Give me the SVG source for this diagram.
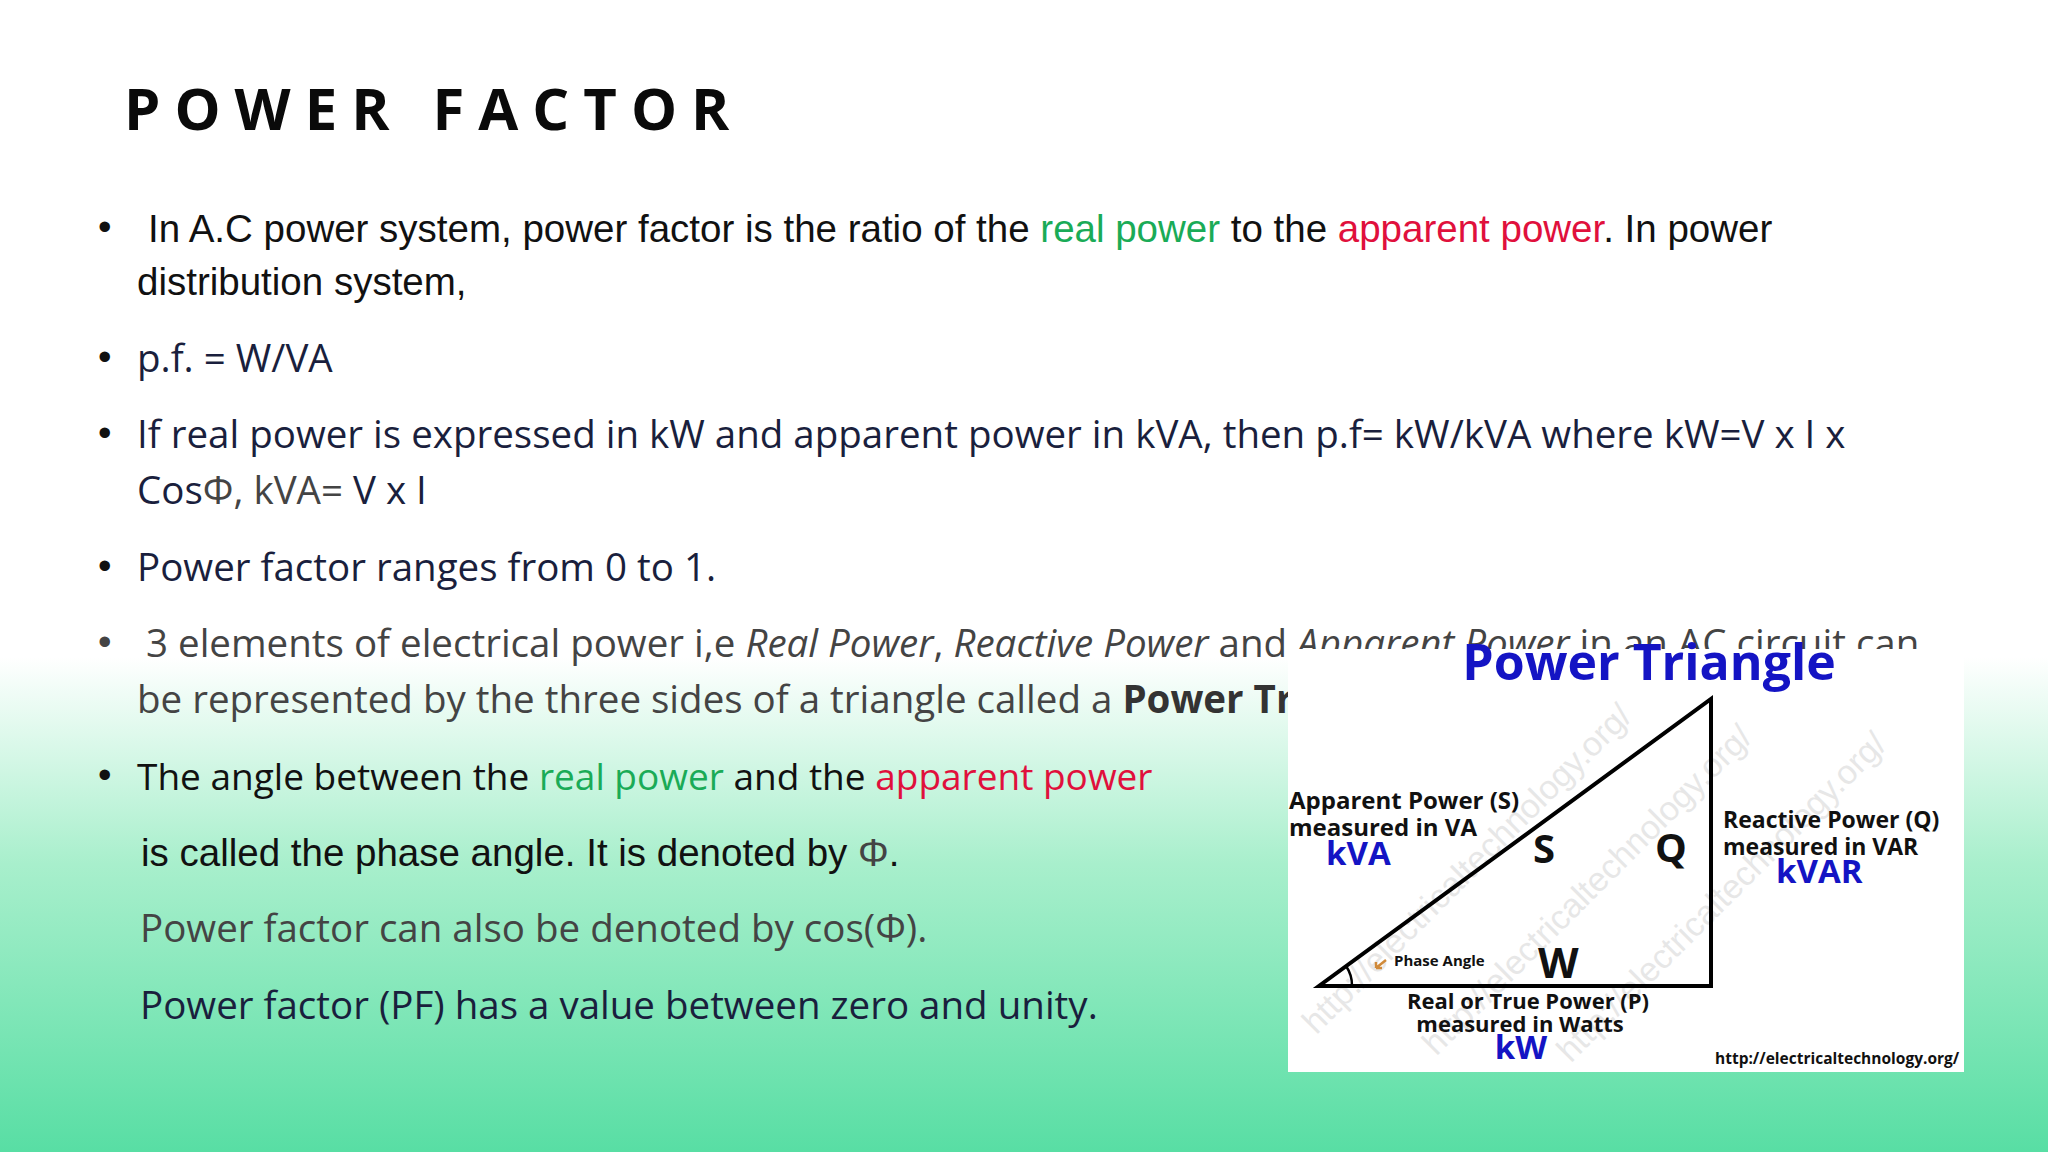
<svg xmlns="http://www.w3.org/2000/svg" width="2048" height="1152" viewBox="0 0 2048 1152">
<defs>
<linearGradient id="bg" x1="0" y1="0" x2="0" y2="1">
<stop offset="0" stop-color="#ffffff"/>
<stop offset="0.57" stop-color="#ffffff"/>
<stop offset="0.75" stop-color="#a8efcc"/>
<stop offset="1" stop-color="#58dea4"/>
</linearGradient>
<style>
.o{font-family:"Open Sans","Noto Sans",sans-serif;font-size:38.5px;fill:#1a1f3d}
.a{font-family:"Liberation Sans",Arial,sans-serif;font-size:38.5px;fill:#111}
.g{fill:#1aab57}.r{fill:#e0103c}.gr{fill:#444}
.b{font-family:"Open Sans","Noto Sans",sans-serif;font-weight:bold;fill:#111}
.bl{fill:#1414c4}
.wm{font-family:"Liberation Sans",sans-serif;font-size:34px;fill:#bbb;opacity:0.35}
</style>
</defs>
<rect width="2048" height="1152" fill="url(#bg)"/>
<text x="124" y="130" font-family="Open Sans,Noto Sans,sans-serif" font-weight="bold" font-size="58" letter-spacing="14" fill="#0a0a0a">POWER FACTOR</text>
<g id="text">
<text x="98" y="240" class="a">•</text>
<text x="148" y="242" class="a">In A.C power system, power factor is the ratio of the <tspan class="g">real power</tspan> to the <tspan class="r">apparent power</tspan>.  In power</text>
<text x="137" y="295" class="a">distribution system,</text>
<text x="98" y="370" class="a">•</text>
<text x="137" y="372" class="o">p.f. = W/VA</text>
<text x="98" y="446" class="a">•</text>
<text x="137" y="448" class="o">If real power is expressed in kW and apparent power in kVA, then p.f= kW/kVA where  kW=V x I x</text>
<text x="137" y="504" class="o">Cos<tspan class="gr">Φ, kVA=</tspan> V x I</text>
<text x="98" y="579" class="a">•</text>
<text x="137" y="581" class="o">Power factor ranges from 0 to 1.</text>
<text x="98" y="655" class="a gr">•</text>
<text x="146" y="657" class="o gr">3 elements of electrical power i,e <tspan font-style="italic">Real Power</tspan>, <tspan font-style="italic">Reactive Power</tspan> and <tspan font-style="italic">Apparent Power</tspan> in an AC circuit can</text>
<text x="137" y="713" class="o gr">be represented by the three sides of a triangle called a <tspan font-weight="bold" fill="#333">Power Triangle</tspan></text>
<text x="98" y="788" class="a">•</text>
<text x="137" y="790" class="o" style="font-size:37px;fill:#111">The angle between the <tspan class="g">real power</tspan> and the <tspan class="r">apparent power</tspan></text>
<text x="141" y="866" class="a">is called the phase angle. It is denoted by <tspan class="gr">Φ</tspan>.</text>
<text x="140" y="942" class="o gr">Power factor can also be denoted by cos(Φ).</text>
<text x="140" y="1019" class="o">Power factor (PF) has a value between zero and unity.</text>
</g>
<g id="image">
<rect x="1288" y="649" width="676" height="423" fill="#fff"/>
<g transform="rotate(-45 1500 880)">
<text x="1260" y="860" class="wm">http://electricaltechnology.org/</text>
<text x="1330" y="960" class="wm">http://electricaltechnology.org/</text>
<text x="1420" y="1060" class="wm">http://electricaltechnology.org/</text>
</g>
<text x="1649" y="680" text-anchor="middle" class="b bl" font-size="50">Power Triangle</text>
<path d="M1319 986 L1711 986 L1711 699 Z" fill="none" stroke="#000" stroke-width="4"/>
<path d="M1352 986 A34 34 0 0 0 1346 966" fill="none" stroke="#000" stroke-width="2.5"/>
<path d="M1386 960 L1376 968 M1376 968 l0 -6 M1376 968 l6 0" stroke="#d08a3a" stroke-width="2.5" fill="none"/>
<text x="1289" y="809" class="b" font-size="24">Apparent Power (S)</text>
<text x="1289" y="836" class="b" font-size="24">measured in VA</text>
<text x="1326" y="865" class="b bl" font-size="33">kVA</text>
<text x="1533" y="863" class="b" font-size="40">S</text>
<text x="1655" y="862" class="b" font-size="40">Q</text>
<text x="1723" y="828" class="b" font-size="23">Reactive Power (Q)</text>
<text x="1723" y="855" class="b" font-size="23">measured in VAR</text>
<text x="1776" y="883" class="b bl" font-size="33">kVAR</text>
<text x="1394" y="966" class="b" font-size="15">Phase Angle</text>
<text x="1538" y="978" class="b" font-size="42">W</text>
<text x="1528" y="1009" text-anchor="middle" class="b" font-size="22">Real or True Power (P)</text>
<text x="1520" y="1032" text-anchor="middle" class="b" font-size="22">measured in Watts</text>
<text x="1521" y="1059" text-anchor="middle" class="b bl" font-size="33">kW</text>
<text x="1715" y="1064" class="b" font-size="15.5" fill="#a52a35">http://electricaltechnology.org/</text>
</g>
</svg>
